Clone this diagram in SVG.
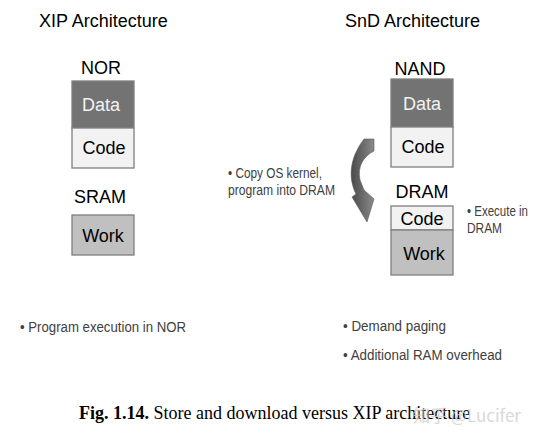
<svg xmlns="http://www.w3.org/2000/svg" width="540" height="442" viewBox="0 0 540 442">
<style>
.title{font-family:"Liberation Sans",Arial,sans-serif;font-size:18px;fill:#000}
.lbl{font-family:"Liberation Sans",Arial,sans-serif;font-size:18px;fill:#000;text-anchor:middle}
.cell{stroke:#7f7f7f;stroke-width:1.3}
.data{fill:#737373}
.code{fill:#f2f2f2}
.work{fill:#c0c0c0}
.ct{font-family:"Liberation Sans",Arial,sans-serif;font-size:18px;text-anchor:middle}
.note{font-family:"Liberation Sans",Arial,sans-serif;font-size:14px;fill:#404040}
.cap{font-family:"Liberation Serif","Times New Roman",serif;font-size:18px;fill:#000}
</style>
<defs>
<linearGradient id="ag" x1="0" y1="0" x2="1" y2="0">
<stop offset="0" stop-color="#4a4a4a"/>
<stop offset="1" stop-color="#8a8a8a"/>
</linearGradient>
</defs>
<rect width="540" height="442" fill="#fff"/>
<text class="title" x="39" y="27">XIP Architecture</text>
<text class="title" x="345" y="27">SnD Architecture</text>

<g id="nor">
<text class="lbl" x="101" y="74">NOR</text>
<rect class="cell data" x="72" y="81" width="62" height="47"/>
<rect class="cell code" x="72" y="128" width="62" height="40"/>
<text class="ct" x="101" y="111" fill="#f2f2f2">Data</text>
<text class="ct" x="104" y="154" fill="#000">Code</text>
</g>
<g id="sram">
<text class="lbl" x="100" y="203">SRAM</text>
<rect class="cell work" x="72" y="215" width="62" height="40"/>
<text class="ct" x="103" y="242" fill="#000">Work</text>
</g>

<g id="nand">
<text class="lbl" x="420" y="75">NAND</text>
<rect class="cell data" x="391" y="79" width="62" height="48"/>
<rect class="cell code" x="391" y="127" width="62" height="40"/>
<text class="ct" x="422" y="110" fill="#f2f2f2">Data</text>
<text class="ct" x="423" y="153" fill="#000">Code</text>
</g>
<g id="dram">
<text class="lbl" x="422" y="198">DRAM</text>
<rect class="cell code" x="391" y="206" width="62" height="24"/>
<rect class="cell work" x="391" y="230" width="62" height="45"/>
<text class="ct" x="422" y="225" fill="#000">Code</text>
<text class="ct" x="424" y="260" fill="#000">Work</text>
</g>

<g id="connectors">
<path d="M364,139 L374,139 L374,151 C364,156 357,166 360,180 L364,190 L374,199 L367,222 L352,197 L356,194 C349,180 348,160 364,139 Z" fill="url(#ag)" stroke="#5a5a5a" stroke-width="0.6"/>
</g>

<text class="note" x="228" y="178" textLength="94" lengthAdjust="spacingAndGlyphs">• Copy OS kernel,</text>
<text class="note" x="228" y="195" textLength="107" lengthAdjust="spacingAndGlyphs">program into DRAM</text>
<text class="note" x="467" y="216" textLength="61" lengthAdjust="spacingAndGlyphs">• Execute in</text>
<text class="note" x="467" y="233" textLength="35" lengthAdjust="spacingAndGlyphs">DRAM</text>
<text class="note" x="20" y="332" textLength="166" lengthAdjust="spacingAndGlyphs">• Program execution in NOR</text>
<text class="note" x="343" y="331" textLength="103" lengthAdjust="spacingAndGlyphs">• Demand paging</text>
<text class="note" x="343" y="360" textLength="159" lengthAdjust="spacingAndGlyphs">• Additional RAM overhead</text>

<text class="cap" x="79" y="419"><tspan font-weight="bold">Fig. 1.14.</tspan> Store and download versus XIP architecture</text>
<text x="413" y="422" font-family="'Noto Sans CJK SC','Liberation Sans',sans-serif" font-size="17" fill="#d0d0d0" opacity="0.8">知乎 @Lucifer</text>
</svg>
